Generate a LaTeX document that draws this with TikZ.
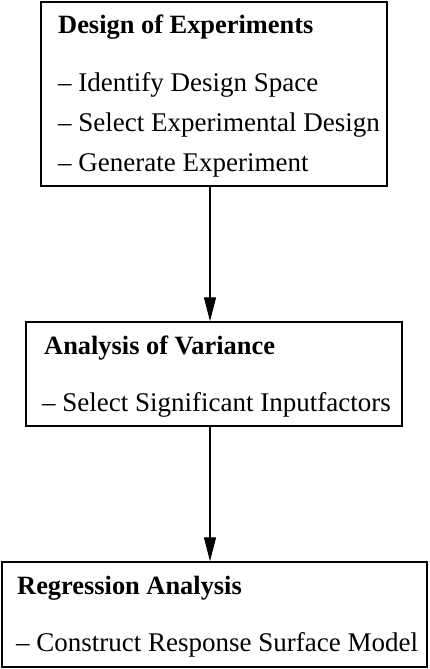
\documentclass[tikz,border=0pt]{standalone}
\usepackage{fontspec}
\setmainfont{Liberation Serif}
\usetikzlibrary{arrows.meta}
\begin{document}
\begin{tikzpicture}[x=1pt,y=-1pt,
  box/.style={draw,line width=1.5pt,rectangle,inner sep=0pt},
  ttl/.style={anchor=base west,inner sep=0pt,font=\fontsize{26.4}{30}\selectfont\bfseries},
  itm/.style={anchor=base west,inner sep=0pt,font=\fontsize{27}{31}\selectfont},
  arr/.style={line width=1.3pt,-{Triangle[length=24pt,width=12pt]}}]
\useasboundingbox (0,0) rectangle (429,669);
\node[box,minimum width=346pt,minimum height=184pt] (b1) at (214,94) {};
\node[box,minimum width=376pt,minimum height=104pt] (b2) at (214,374) {};
\node[box,minimum width=425pt,minimum height=105pt] (b3) at (214.5,614.5) {};
\node[ttl] (t1) at (58,34) {Design of Experiments};
\node[itm] (i11) at (58,91) {– Identify Design Space};
\node[itm] (i12) at (58,131) {– Select Experimental Design};
\node[itm] (i13) at (58,171) {– Generate Experiment};
\node[ttl] (t2) at (44,354) {Analysis of Variance};
\node[itm] (i21) at (42,411) {– Select Significant Inputfactors};
\node[ttl] (t3) at (17,594) {Regression Analysis};
\node[itm] (i31) at (16,651) {– Construct Response Surface Model};
\coordinate (ax) at (210,0);
\draw[arr] (b1.south -| ax) -- (b2.north -| ax);
\draw[arr] (b2.south -| ax) -- (b3.north -| ax);
\end{tikzpicture}
\end{document}
